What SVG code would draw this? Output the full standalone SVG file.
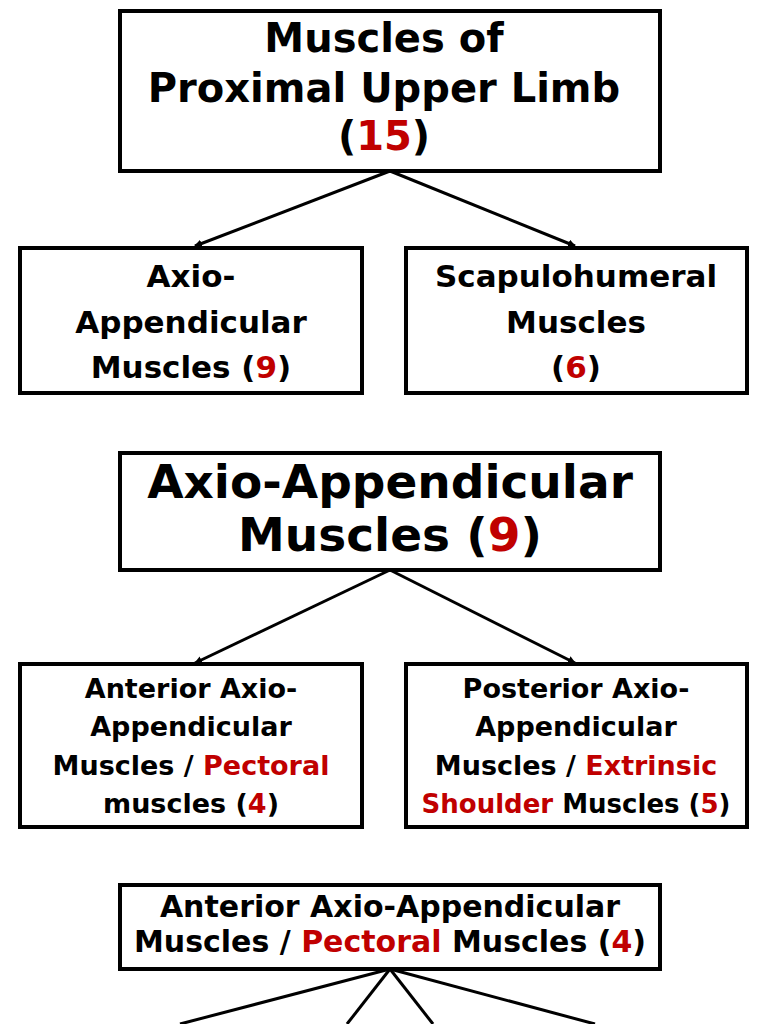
<svg xmlns="http://www.w3.org/2000/svg" width="768" height="1024" viewBox="0 0 768 1024">
<style>
rect{fill:#fff;stroke:#000;stroke-width:4}
text{font-family:"DejaVu Sans","Liberation Sans",sans-serif;font-weight:bold;text-anchor:middle;fill:#000}
.r{fill:#c00000}
line{stroke:#000;stroke-width:3}
</style>
<defs><marker id="a" markerWidth="8" markerHeight="8" refX="7" refY="4" orient="auto" markerUnits="userSpaceOnUse"><path d="M0,0 L8,4 L0,8 z"/></marker></defs>
<rect width="768" height="1024" style="stroke:none"/>
<g id="connectors">
<line x1="390" y1="171" x2="195" y2="246" marker-end="url(#a)"/>
<line x1="390" y1="171" x2="575" y2="246" marker-end="url(#a)"/>
<line x1="390" y1="570" x2="195" y2="663" marker-end="url(#a)"/>
<line x1="390" y1="570" x2="575" y2="663" marker-end="url(#a)"/>
<line x1="390" y1="969" x2="180" y2="1024"/>
<line x1="390" y1="969" x2="347" y2="1024"/>
<line x1="390" y1="969" x2="433" y2="1024"/>
<line x1="390" y1="969" x2="595" y2="1024"/>
</g>
<g id="n1"><rect x="120" y="11" width="540" height="160"/>
<text font-size="40" x="384" y="52">Muscles of</text>
<text font-size="40" x="384" y="102">Proximal Upper Limb</text>
<text font-size="40" x="384" y="150">(<tspan class="r">15</tspan>)</text></g>
<g id="n2"><rect x="20" y="248" width="342" height="145"/>
<text font-size="31" x="191" y="287">Axio-</text>
<text font-size="31" x="191" y="333">Appendicular</text>
<text font-size="31" x="191" y="378">Muscles (<tspan class="r">9</tspan>)</text></g>
<g id="n3"><rect x="406" y="248" width="341" height="145"/>
<text font-size="31" x="576" y="287">Scapulohumeral</text>
<text font-size="31" x="576" y="333">Muscles</text>
<text font-size="31" x="576" y="378">(<tspan class="r">6</tspan>)</text></g>
<g id="n4"><rect x="120" y="453" width="540" height="117"/>
<text font-size="47" x="390" y="498">Axio-Appendicular</text>
<text font-size="47" x="390" y="551">Muscles (<tspan class="r">9</tspan>)</text></g>
<g id="n5"><rect x="20" y="664" width="342" height="163"/>
<text font-size="27" x="191" y="698">Anterior Axio-</text>
<text font-size="27" x="191" y="736">Appendicular</text>
<text font-size="27" x="191" y="775">Muscles / <tspan class="r">Pectoral</tspan></text>
<text font-size="27" x="191" y="813">muscles  (<tspan class="r">4</tspan>)</text></g>
<g id="n6"><rect x="406" y="664" width="341" height="163"/>
<text font-size="27" x="576" y="698">Posterior Axio-</text>
<text font-size="27" x="576" y="736">Appendicular</text>
<text font-size="27" x="576" y="775">Muscles / <tspan class="r">Extrinsic</tspan></text>
<text font-size="26" x="576" y="813"><tspan class="r">Shoulder</tspan> Muscles (<tspan class="r">5</tspan>)</text></g>
<g id="n7"><rect x="120" y="885" width="540" height="84"/>
<text font-size="30" x="390" y="917">Anterior Axio-Appendicular</text>
<text font-size="30" x="390" y="952">Muscles / <tspan class="r">Pectoral</tspan> Muscles (<tspan class="r">4</tspan>)</text></g>
</svg>
